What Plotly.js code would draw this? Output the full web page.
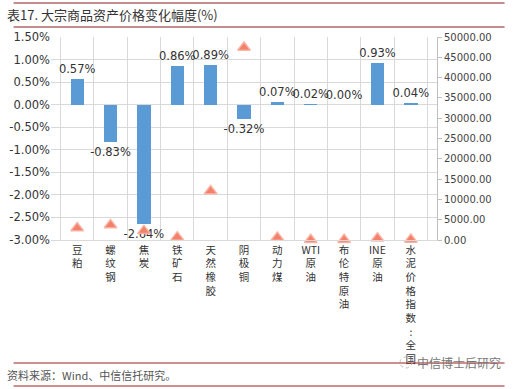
<!DOCTYPE html>
<html>
<head>
<meta charset="utf-8">
<script src="https://cdn.plot.ly/plotly-3.0.1.min.js"></script>
<style>
html,body{margin:0;padding:0;background:#fff;}
#chart{width:528px;height:389px;}
</style>
</head>
<body>
<div id="chart"></div>
<script>
const categories = ["豆粕","螺纹钢","焦炭","铁矿石","天然橡胶","阴极铜","动力煤","WTI原油","布伦特原油","INE原油","水泥价格指数:全国"];
const changePct = [0.57, -0.83, -2.64, 0.86, 0.89, -0.32, 0.07, 0.02, 0.00, 0.93, 0.04];
const prices = [2950, 3700, 2250, 700, 12060, 47400, 600, 60, 65, 450, 150];
const leftTicks = [1.5, 1.0, 0.5, 0, -0.5, -1.0, -1.5, -2.0, -2.5, -3.0];
const rightTicks = [0, 5000, 10000, 15000, 20000, 25000, 30000, 35000, 40000, 45000, 50000];

const cjk = '"Noto Sans CJK SC", "Noto Sans", sans-serif';
const num = '"DejaVu Sans", "Noto Sans", sans-serif';

function stack(s){
  // keep runs of latin letters together, stack CJK characters
  const parts = s.match(/[A-Za-z]+|./g);
  return parts.join('<br>');
}
function fmtPct(v){ return v.toFixed(2) + '%'; }

const barTrace = {
  type: 'bar',
  x: categories,
  y: changePct,
  width: 0.4,
  marker: {color: '#5B9BD5'},
  text: changePct.map(fmtPct),
  textposition: 'outside',
  constraintext: 'none',
  textfont: {family: num, size: 11.5, color: '#333'},
  cliponaxis: false,
  hoverinfo: 'skip'
};
const priceTrace = {
  type: 'scatter',
  mode: 'markers',
  x: categories,
  y: prices,
  yaxis: 'y2',
  marker: {symbol: 'triangle-up', size: 11, color: '#F3806A', line: {color: 'rgba(250,175,160,0.9)', width: 1.5}},
  cliponaxis: false,
  hoverinfo: 'skip'
};

const layout = {
  width: 528, height: 389,
  paper_bgcolor: '#fff', plot_bgcolor: '#fff',
  margin: {l: 51, r: 91, t: 37, b: 149},
  showlegend: false,
  bargap: 0,
  xaxis: {
    type: 'category',
    tickvals: categories,
    ticktext: categories.map(stack),
    tickson: 'boundaries',
    showgrid: true, gridcolor: '#D9D9D9', gridwidth: 1,
    ticks: '', tickangle: 0,
    showline: true, linecolor: '#D9D9D9',
    tickfont: {family: cjk, size: 10.5, color: '#333'},
    zeroline: false
  },
  yaxis: {
    range: [-3.0, 1.5],
    tickvals: leftTicks,
    ticktext: leftTicks.map(v => v.toFixed(2).replace('-0.00','0.00') + '%'),
    showgrid: true, gridcolor: '#D9D9D9',
    zeroline: false,
    showline: false,
    ticks: '',
    tickfont: {family: num, size: 11.5, color: '#333'}
  },
  yaxis2: {
    overlaying: 'y', side: 'right',
    range: [0, 50000],
    tickvals: rightTicks,
    ticktext: rightTicks.map(v => v.toFixed(2)),
    showgrid: false, zeroline: false,
    showline: true, linecolor: '#BFBFBF',
    ticks: 'outside', ticklen: 4, tickcolor: '#BFBFBF',
    tickfont: {family: num, size: 10, color: '#444'}
  },
  shapes: [
    {type: 'line', xref: 'paper', yref: 'paper', x0: -0.097, x1: 1.175, y0: 1 + 34/203, y1: 1 + 34/203, line: {color: '#8B1C1C', width: 1.2}},
    {type: 'line', xref: 'paper', yref: 'paper', x0: -0.097, x1: 1.175, y0: 1 + 10/203, y1: 1 + 10/203, line: {color: '#8B1C1C', width: 1.2}},
    {type: 'line', xref: 'paper', yref: 'paper', x0: -0.097, x1: 1.175, y0: -123/203, y1: -123/203, line: {color: '#A01E1E', width: 1.2}},
    {type: 'line', xref: 'paper', yref: 'paper', x0: -0.097, x1: 1.175, y0: -146/203, y1: -146/203, line: {color: '#A01E1E', width: 1.2}},
    {type: 'circle', xref: 'paper', yref: 'paper', x0: (400-51)/386, x1: (412-51)/386, y0: (240-368)/203, y1: (240-357)/203, line: {color: '#BBBBBB', width: 1, dash: 'dot'}}
  ],
  annotations: [
    {xref: 'paper', yref: 'paper', x: -46/386, y: 1 + 22/203, xanchor: 'left', yanchor: 'middle', showarrow: false,
     text: '表17. 大宗商品资产价格变化幅度(%)', font: {family: cjk, size: 13, color: '#333'}},
    {xref: 'paper', yref: 'paper', x: -46/386, y: -135/203, xanchor: 'left', yanchor: 'middle', showarrow: false,
     text: '资料来源：Wind、中信信托研究。', font: {family: cjk, size: 11, color: '#555'}},
    {xref: 'paper', yref: 'paper', x: (415-51)/386, y: -122/203, xanchor: 'left', yanchor: 'middle', showarrow: false,
     text: '中信博士后研究', font: {family: cjk, size: 12, color: '#777'}}
  ]
};

Plotly.newPlot('chart', [barTrace, priceTrace], layout, {displayModeBar: false, staticPlot: true});
</script>
</body>
</html>
